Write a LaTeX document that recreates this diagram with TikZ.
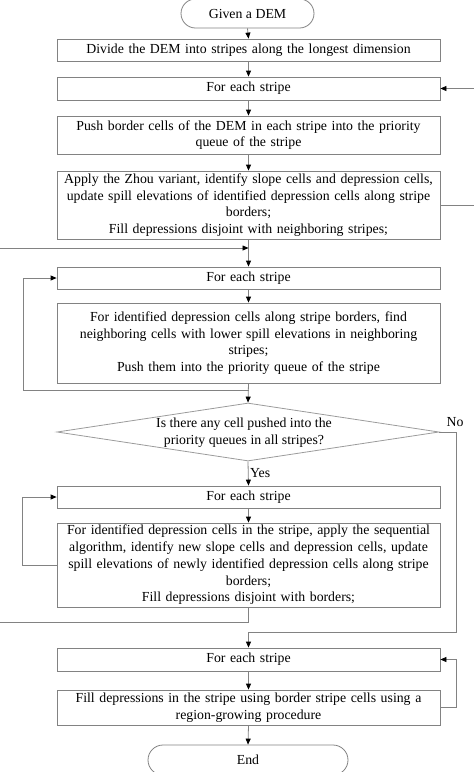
\documentclass[tikz,border=0pt]{standalone}
\usepackage{fontspec}
\setmainfont{Liberation Serif}
\usetikzlibrary{shapes.geometric,shapes.misc,arrows.meta}
\definecolor{lg}{RGB}{130,130,130}
\begin{document}
\begin{tikzpicture}[x=1pt,y=-1pt,
  font=\fontsize{13.8}{16.7}\selectfont,
  box/.style={draw=lg,line width=0.8pt,rectangle,inner sep=0pt,minimum width=383pt,text width=380pt,align=center},
  term/.style={draw=lg,line width=0.8pt,rounded rectangle,inner sep=0pt},
  conn/.style={draw=lg,line width=0.8pt},
  arr/.style={conn,-{Triangle[length=6pt,width=5pt,color=black]}},
]
\useasboundingbox (0,0) rectangle (474,772);
\node[term,minimum width=133pt,minimum height=29pt] (start) at (247.5,13.5) {Given a DEM};
\node[box,minimum height=22pt] (b1) at (248.5,50) {Divide the DEM into stripes along the longest dimension};
\node[box,minimum height=23pt] (b2) at (248.5,88.5) {For each stripe};
\node[box,minimum height=38pt] (b3) at (248.5,135) {Push border cells of the DEM in each stripe into the priority\\ queue of the stripe};
\node[box,minimum height=68pt] (b4) at (248.5,205) {Apply the Zhou variant, identify slope cells and depression cells,\\ update spill elevations of identified depression cells along stripe\\ borders;\\ Fill depressions disjoint with neighboring stripes;};
\node[box,minimum height=22pt] (b5) at (248.5,278) {For each stripe};
\node[box,minimum height=80pt] (b6) at (248.5,343) {For identified depression cells along stripe borders, find\\ neighboring cells with lower spill elevations in neighboring\\ stripes;\\ Push them into the priority queue of the stripe};
\node[diamond,draw=lg!80,line width=0.8pt,inner sep=0pt,minimum width=382pt,minimum height=58pt] (dia) at (248,432) {};
\node[align=center,inner sep=0pt] (dtext) at (244,433) {Is there any cell pushed into the\\ priority queues in all stripes?};
\node[box,minimum height=22pt] (b7) at (248.5,497) {For each stripe};
\node[box,minimum height=84pt] (b8) at (248.5,565) {For identified depression cells in the stripe, apply the sequential\\ algorithm, identify new slope cells and depression cells, update\\ spill elevations of newly identified depression cells along stripe\\ borders;\\ Fill depressions disjoint with borders;};
\node[box,minimum height=23pt] (b9) at (248.5,659.5) {For each stripe};
\node[box,minimum height=35pt] (b10) at (248.5,707.5) {Fill depressions in the stripe using border stripe cells using a\\ region-growing procedure};
\node[term,minimum width=200pt,minimum height=30pt] (end) at (248,760) {End};
\node[inner sep=0pt] (no) at (455,422) {No};
% connectors
\draw[arr] (start.south) -- (b1.north);
\draw[arr] (b1.south) -- (b2.north);
\draw[arr] (b2.south) -- (b3.north);
\draw[arr] (b3.south) -- (b4.north);
\draw[arr] (b4.east) -- ++(33.5,0) |- (b2.east);
\draw[arr] (b4.south) -- (b5.north);
\coordinate (L1) at (0,248);
\coordinate (J1) at (248.5,248);
\draw[arr] (L1) -- (J1);
\draw[arr] (b5.south) -- (b6.north);
\draw[arr] (b6.south) -- (dia.north);
\coordinate (J2) at (248.5,390);
\coordinate (K2) at (23,390);
\draw[arr] (J2) -- (K2) |- (b5.west);
\draw[arr] (dia.south) -- node[right,inner sep=1.5pt] (yes) {Yes} (b7.north);
\coordinate (N1) at (456,432);
\coordinate (N2) at (456,632);
\draw[arr] (dia.east) -- (N1) -- (N2) -| (b9.north);
\draw[arr] (b7.south) -- (b8.north);
\draw[arr] (b8.west) -- ++(-34,0) |- (b7.west);
\coordinate (L2) at (0,622);
\draw[conn] (b8.south) |- (L2);
\draw[arr] (b9.south) -- (b10.north);
\draw[arr] (b10.south) -- (end.north);
\draw[arr] (b10.east) -- ++(16,0) |- (b9.east);
\end{tikzpicture}
\end{document}
